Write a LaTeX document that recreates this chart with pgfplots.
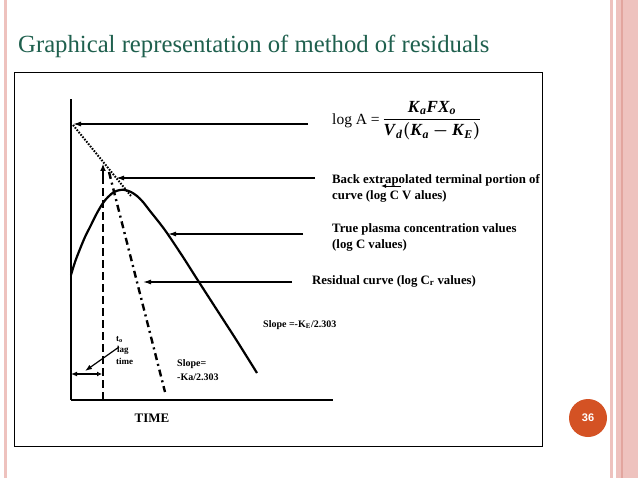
\documentclass[border=0pt]{standalone}
\usepackage{fontspec}
\setmainfont{Liberation Serif}
\newfontfamily\slidesans{Liberation Sans}
\usepackage{amsmath}
\usepackage{pgfplots}
\pgfplotsset{compat=1.18}
\usetikzlibrary{arrows.meta}

\definecolor{titlegreen}{RGB}{31,96,78}
\definecolor{slidepink}{RGB}{238,194,190}
\definecolor{slidepinkdark}{RGB}{226,165,158}
\definecolor{pagecircle}{RGB}{212,82,36}

\newcommand\mi[1]{\textbf{\textit{#1}}}

\begin{document}
\begin{tikzpicture}[
  lbl/.style={font=\fontsize{12.8bp}{15bp}\selectfont\bfseries, anchor=base west, inner sep=0pt},
  small/.style={font=\fontsize{10bp}{12bp}\selectfont\bfseries, anchor=west, inner sep=0pt},
  tiny/.style={font=\fontsize{9bp}{11bp}\selectfont\bfseries, anchor=west, inner sep=0pt},
  note/.style={line width=1.3bp, -{Latex[length=8bp,width=5bp]}},
]
% slide frame, in pixel coordinates (y runs downward)
\begin{axis}[
  at={(0,0)}, anchor=south west,
  width=638bp, height=478bp, scale only axis,
  xmin=0, xmax=638, ymin=0, ymax=478, y dir=reverse,
  hide axis, clip=false,
]
\addplot[draw=none, fill=white] coordinates {(0,0) (638,0) (638,478) (0,478)} --cycle;
\addplot[draw=none, fill=slidepink] coordinates {(4,0) (7,0) (7,478) (4,478)} --cycle;
\addplot[draw=none, fill=slidepink] coordinates {(610,0) (612.5,0) (612.5,478) (610,478)} --cycle;
\addplot[draw=none, fill=slidepink] coordinates {(616,0) (638,0) (638,478) (616,478)} --cycle;
\addplot[draw=none, fill=slidepinkdark] coordinates {(621,0) (623,0) (623,478) (621,478)} --cycle;
\addplot[black, line width=1.8bp] coordinates {(14.5,72.5) (542.5,72.5) (542.5,446.5) (14.5,446.5)} --cycle;

\node[anchor=base west, inner sep=0pt, text=titlegreen, font=\fontsize{24.7bp}{28bp}\selectfont]
  at (axis cs:18,53) {Graphical representation of method of residuals};

\fill[pagecircle] (axis cs:588,418) circle[radius=19bp];
\node[text=white, font=\slidesans\bfseries\fontsize{11bp}{13bp}\selectfont] at (axis cs:588,418) {36};

% pointer arrows
\addplot[note] coordinates {(308,124) (73,124)};
\addplot[note] coordinates {(315,178) (116,178)};
\addplot[line width=1bp, -{Latex[length=5bp,width=4bp]}] coordinates {(401,186) (381,186)};
\addplot[note] coordinates {(303,234) (168,234)};
\addplot[note] coordinates {(292,282) (143,282)};
\addplot[line width=1.2bp, {Latex[length=6bp,width=5bp]}-{Latex[open,length=5bp,width=5bp]}] coordinates {(71,374) (102,374)};
\addplot[line width=1.2bp, -{Latex[length=7bp,width=5bp]}] coordinates {(119,347) (85,371)};

% labels
\node[anchor=base west, inner sep=0pt, font=\fontsize{17bp}{20bp}\selectfont] at (axis cs:332,124)
  {{\fontsize{15.5bp}{18bp}\selectfont log A =}\,$\dfrac{\mi{K}_{\mi{a}}\mi{F}\mi{X}_{\mi{o}}}{\mi{V}_{\mi{d}}\boldsymbol{(}\mi{K}_{\mi{a}}\boldsymbol{-}\mi{K}_{\mi{E}}\boldsymbol{)}}$};
\node[lbl] at (axis cs:332,183) {Back extrapolated terminal portion of};
\node[lbl] at (axis cs:332,199) {curve (log C V alues)};
\node[lbl] at (axis cs:332,232) {True plasma concentration values};
\node[lbl] at (axis cs:332,248) {(log C values)};
\node[lbl] at (axis cs:312,284) {Residual curve (log C\textsubscript{r} values)};
\node[small] at (axis cs:263,325) {Slope =-K\textsubscript{E}/2.303};
\node[small] at (axis cs:177,364) {Slope=};
\node[small] at (axis cs:177,377) {-Ka/2.303};
\node[tiny] at (axis cs:116,339) {t\textsubscript{o}};
\node[tiny] at (axis cs:117,350) {lag};
\node[tiny] at (axis cs:116,361) {time};
\end{axis}

% the plot itself: x in pixels, y = 478 - pixel row
\begin{axis}[
  at={(70.7bp,78bp)}, anchor=south west,
  width=262.3bp, height=301bp, scale only axis,
  xmin=70.7, xmax=333, ymin=78, ymax=379,
  axis lines=left, axis line style={line width=2.2bp, -},
  xtick=\empty, ytick=\empty,
  xlabel={TIME},
  xlabel style={at={(axis description cs:0.31,0)}, anchor=center, yshift=-18bp,
    font=\fontsize{13bp}{15bp}\selectfont\bfseries},
  clip=false,
]
% true plasma concentration (log C)
\addplot[line width=2.2bp, smooth, tension=0.5] coordinates {
  (71,203) (75,216) (80,229) (85,241) (90,251) (97,265) (103,275) (108,281)
  (114,286) (120,288) (125,288) (131,286) (137,282) (143,276) (150,267)
  (158,257) (167,245) (183,221) (197,199) (217,168) (237,137) (257,105)
};
% back extrapolated terminal line
\addplot[line width=2bp, dash pattern=on 1.6bp off 1.4bp] coordinates {(73,353) (131,282)};
% residual curve
\addplot[line width=2.4bp, dash pattern=on 7bp off 4bp on 2bp off 4bp] coordinates {(109,306) (165,86)};
% lag time
\addplot[line width=2.4bp, dash pattern=on 8bp off 4bp] coordinates {(103,78) (103,306)};
\addplot[line width=1.2bp, -{Latex[length=7bp,width=6bp]}] coordinates {(103,302) (103,314)};
\end{axis}
\end{tikzpicture}
\end{document}
